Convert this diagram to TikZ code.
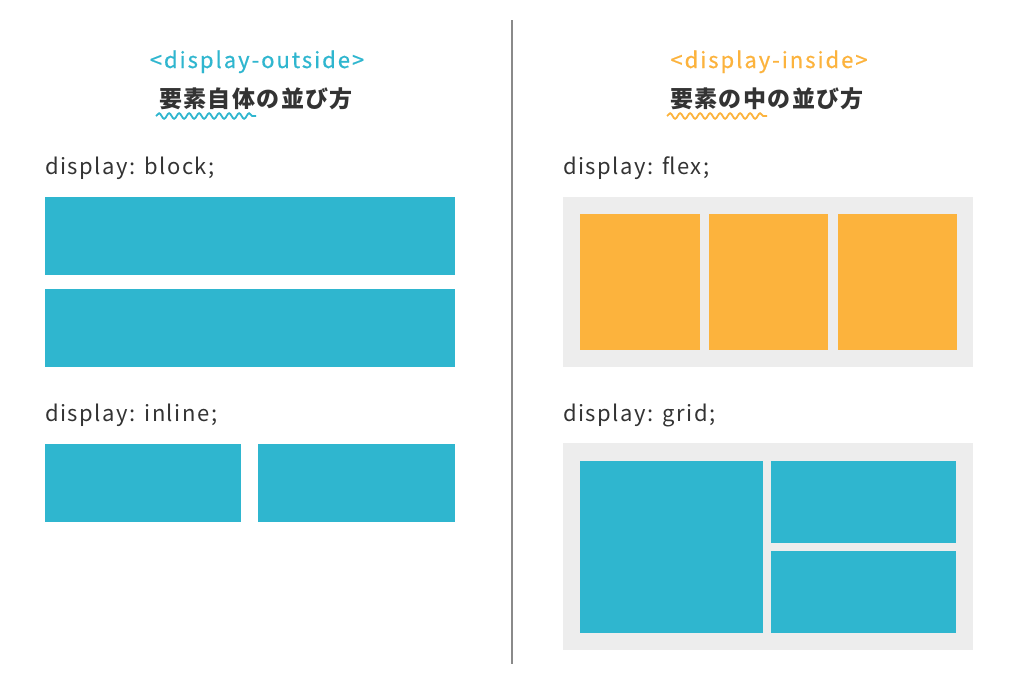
\documentclass[tikz,border=0pt]{standalone}
\usepackage{fontspec}
\setmainfont{Noto Sans CJK JP}
\newfontfamily\lblfont[LetterSpace=7]{Noto Sans CJK JP}
\newfontfamily\headfont[LetterSpace=9,FakeBold=0.6]{Noto Sans CJK JP}
\newfontfamily\jpfont[LetterSpace=6]{Noto Sans CJK JP}
\usetikzlibrary{decorations.pathmorphing}
\definecolor{cyanbox}{HTML}{2FB6CF}
\definecolor{orangebox}{HTML}{FCB33D}
\definecolor{graybg}{HTML}{EDEDED}
\definecolor{txt}{HTML}{333333}
\definecolor{divider}{HTML}{8A8A8A}
\tikzset{
  lbl/.style={anchor=base west, inner sep=0pt, text=txt, font=\lblfont\fontsize{22}{26}\selectfont},
  head/.style={anchor=base, inner sep=0pt, font=\headfont\fontsize{22}{26}\selectfont},
  jp/.style={anchor=base, inner sep=0pt, text=txt, font=\jpfont\fontsize{23}{28}\selectfont\bfseries},
  wave/.style={line width=1.8pt, decorate, decoration={snake, amplitude=2.8pt, segment length=10pt}},
}
\begin{document}
\begin{tikzpicture}[x=1pt,y=-1pt]
\useasboundingbox (0,0) rectangle (1024,683);
\fill[white] (0,0) rectangle (1024,683);
% divider
\draw[divider, line width=2pt] (512,20) coordinate (dtop) -- (512,664) coordinate (dbot);
% left headings
\node[head, text=cyanbox] (lt) at (257,68) {<display-outside>};
\node[jp] (ljp) at (256,107) {要素自体の並び方};
\coordinate (lw1) at (156,116);
\coordinate (lw2) at (256,116);
\draw[wave, cyanbox] (lw1) -- (lw2);
% right headings
\node[head, text=orangebox] (rt) at (769,68) {<display-inside>};
\node[jp] (rjp) at (767,107) {要素の中の並び方};
\coordinate (rw1) at (667,116);
\coordinate (rw2) at (767,116);
\draw[wave, orangebox] (rw1) -- (rw2);
% block
\node[lbl] (lblock) at (45,174) {display: block;};
\fill[cyanbox] (45,197) rectangle (455,275);
\fill[cyanbox] (45,289) rectangle (455,367);
% inline
\node[lbl] (linline) at (45,421) {display: inline;};
\fill[cyanbox] (45,444) rectangle (241,522);
\fill[cyanbox] (258,444) rectangle (455,522);
% flex
\node[lbl] (lflex) at (563,174) {display: flex;};
\fill[graybg] (563,197) rectangle (973,367);
\fill[orangebox] (580,214) rectangle (700,350);
\fill[orangebox] (709,214) rectangle (828,350);
\fill[orangebox] (838,214) rectangle (957,350);
% grid
\node[lbl] (lgrid) at (563,421) {display: grid;};
\fill[graybg] (563,443) rectangle (973,650);
\fill[cyanbox] (580,461) rectangle (763,633);
\fill[cyanbox] (771,461) rectangle (956,543);
\fill[cyanbox] (771,551) rectangle (956,633);
\end{tikzpicture}
\end{document}
